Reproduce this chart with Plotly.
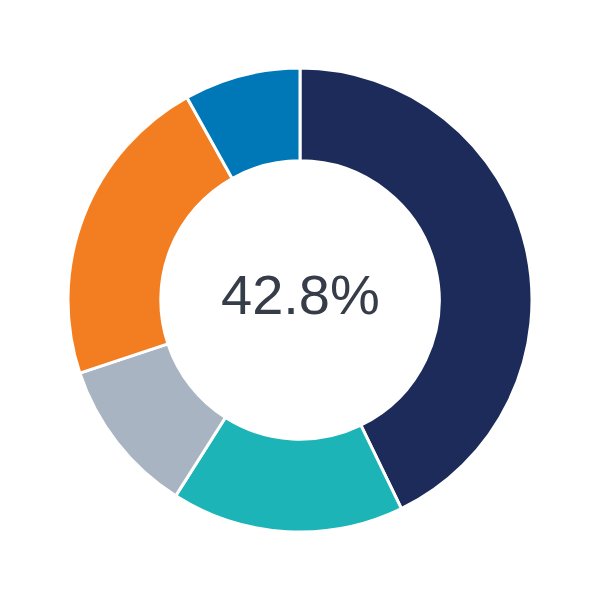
import plotly.graph_objects as go

labels = ["A", "B", "C", "D", "E"]
values = [42.8, 16.2, 10.9, 22.0, 8.1]
colors = ["#1c2b5a", "#1cb4b6", "#a9b4c2", "#f37e21", "#0077b6"]
center_label = "42.8%"

fig = go.Figure()
fig.add_trace(go.Pie(
    labels=labels,
    values=values,
    hole=0.6,
    sort=False,
    direction="clockwise",
    rotation=0,
    marker=dict(colors=colors, line=dict(color="white", width=3)),
    textinfo="none",
    hoverinfo="label+percent",
    showlegend=False,
))

fig.add_annotation(
    text=center_label, x=0.5, y=0.5, xref="paper", yref="paper",
    showarrow=False, yshift=6,
    font=dict(family="Liberation Sans, Arial, sans-serif", size=56, color="#363d49"),
)

# page body has an 8px margin, so pull the ring back up-left
fig.update_layout(
    width=600, height=600,
    margin=dict(l=60, r=76, t=60, b=76),
    paper_bgcolor="white",
    plot_bgcolor="white",
)

fig.write_html("out.html")
